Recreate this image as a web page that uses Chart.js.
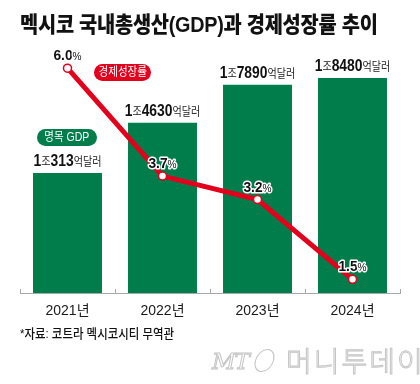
<!DOCTYPE html>
<html>
<head>
<meta charset="utf-8">
<script src="https://cdn.jsdelivr.net/npm/chart.js@4.4.0/dist/chart.umd.min.js"></script>
<style>
  html, body { margin: 0; padding: 0; background: #fff; }
  #wrap { position: relative; width: 420px; height: 384px; overflow: hidden; background: #fff;
          font-family: 'Liberation Sans', 'Noto Sans CJK KR', sans-serif; }
  #c { position: absolute; left: 0; top: 0; }
  .title { position: absolute; left: 20px; top: 6px; font-size: 22px; font-weight: 900; color: #111;
           white-space: nowrap; transform: scaleX(0.9); transform-origin: left top; letter-spacing: -0.3px; }
  .pill { position: absolute; height: 17px; line-height: 17px; border-radius: 8.5px; color: #fff;
          font-size: 12.5px; text-align: center; white-space: nowrap; }
  .pill span { display: inline-block; transform: scaleX(0.84); transform-origin: center; }
  .src { position: absolute; left: 20px; top: 323px; font-size: 13px; font-weight: 500; color: #111; white-space: nowrap;
         transform: scaleX(0.88); transform-origin: left top; }
  .wm { position: absolute; left: 212px; top: 340px; white-space: nowrap; color: transparent;
        -webkit-text-stroke: 1px #c4c4c4; }
  .wm .mt { font-family: 'DejaVu Serif', serif; font-style: italic; font-size: 23px; vertical-align: 3px; letter-spacing: -1px; }
  .wm .logo { display: inline-block; width: 17px; height: 21px; border: 1.5px solid #c4c4c4; border-radius: 50%;
              margin: 0 12px 0 6px; vertical-align: 0px; transform: skewX(-15deg); }
  .wm .mn { font-family: 'Noto Sans CJK KR', sans-serif; font-weight: 300; font-size: 28px; letter-spacing: 2px; }
</style>
</head>
<body>
<div id="wrap">
  <canvas id="c" width="420" height="384"></canvas>
  <div class="title">멕시코 국내총생산(GDP)과 경제성장률 추이</div>
  <div class="pill" style="left:94px; top:64px; width:57px; background:#e2001c;"><span>경제성장률</span></div>
  <div class="pill" style="left:37px; top:129px; width:60px; background:#007d4b;"><span>명목 GDP</span></div>
  <div class="src">*자료: 코트라 멕시코시티 무역관</div>
  <div class="wm"><span class="mt">MT</span><span class="logo"></span><span class="mn">머니투데이</span></div>
</div>
<script>
const years = ['2021년', '2022년', '2023년', '2024년'];
const gdp = [10313, 14630, 17890, 18480];       // 억달러
const growth = [6.0, 3.7, 3.2, 1.5];            // %

const GREEN = '#007d4b';
const RED = '#e2001c';
const FONT = "'Liberation Sans', 'Noto Sans CJK KR', sans-serif";
const KFONT = "'Noto Sans CJK KR', 'Liberation Sans', sans-serif";

const labelPlugin = {
  id: 'labels',
  afterDraw(chart) {
    const ctx = chart.ctx;
    // small ticks on baseline at category boundaries
    const xs = chart.scales.x;
    const n = years.length;
    const step = (xs.right - xs.left) / n;
    ctx.save();
    ctx.strokeStyle = '#a8a8a8';
    ctx.lineWidth = 1;
    for (let i = 0; i <= n; i++) {
      const x = Math.round(xs.left + i * step) + 0.5;
      ctx.beginPath();
      ctx.moveTo(x, xs.top);
      ctx.lineTo(x, xs.top - 4);
      ctx.stroke();
    }
    ctx.restore();

    // bar value labels
    const barMeta = chart.getDatasetMeta(1);
    barMeta.data.forEach((el, i) => {
      const v = gdp[i];
      const segs = [
        [String(Math.floor(v / 10000)), 'bold 16.5px ' + FONT, '#111'],
        ['조', '12px ' + KFONT, '#222'],
        [String(v % 10000), 'bold 16.5px ' + FONT, '#111'],
        ['억달러', '12px ' + KFONT, '#222']
      ];
      ctx.save();
      let total = 0;
      segs.forEach(s => { ctx.font = s[1]; s.push(ctx.measureText(s[0]).width); total += s[3]; });
      ctx.translate(el.x, el.y - 7);
      ctx.scale(0.84, 1);
      let x = -total / 2;
      ctx.textBaseline = 'alphabetic';
      ctx.textAlign = 'left';
      segs.forEach(s => { ctx.font = s[1]; ctx.fillStyle = s[2]; ctx.fillText(s[0], x, 0); x += s[3]; });
      ctx.restore();
    });

    // growth labels
    const lineMeta = chart.getDatasetMeta(0);
    lineMeta.data.forEach((el, i) => {
      const segs = [
        [growth[i].toFixed(1), 'bold 15px ' + FONT],
        ['%', '11px ' + FONT]
      ];
      ctx.save();
      let total = 0;
      segs.forEach(s => { ctx.font = s[1]; s.push(ctx.measureText(s[0]).width); total += s[2]; });
      ctx.translate(el.x, el.y - 8);
      ctx.scale(0.92, 1);
      let x = -total / 2;
      ctx.textBaseline = 'alphabetic';
      ctx.lineJoin = 'round';
      segs.forEach(s => {
        ctx.font = s[1];
        ctx.strokeStyle = '#fff';
        ctx.lineWidth = 3;
        ctx.strokeText(s[0], x, 0);
        ctx.fillStyle = '#111';
        ctx.fillText(s[0], x, 0);
        x += s[2];
      });
      ctx.restore();
    });
  }
};

new Chart(document.getElementById('c'), {
  data: {
    labels: years,
    datasets: [
      {
        type: 'line',
        label: '경제성장률',
        data: growth,
        yAxisID: 'y2',
        borderColor: RED,
        borderWidth: 5,
        pointRadius: 4,
        pointBorderWidth: 1.5,
        pointBackgroundColor: '#fff',
        pointBorderColor: RED,
        tension: 0,
        order: 0
      },
      {
        type: 'bar',
        label: '명목 GDP',
        data: gdp,
        yAxisID: 'y',
        backgroundColor: GREEN,
        borderWidth: 0,
        categoryPercentage: 1,
        barPercentage: 0.726,
        order: 1
      }
    ]
  },
  options: {
    responsive: false,
    devicePixelRatio: 1,
    animation: false,
    layout: { padding: { top: 40, left: 20, right: 20, bottom: 0 } },
    plugins: { legend: { display: false }, title: { display: false }, tooltip: { enabled: false } },
    scales: {
      x: {
        offset: true,
        grid: { display: true, drawOnChartArea: false, drawTicks: false, color: 'rgba(0,0,0,0)' },
        border: { display: true, color: '#a8a8a8', width: 1 },
        ticks: { color: '#1a1a1a', font: { size: 14, family: FONT }, padding: 10 },
        afterFit(scale) { scale.height = 91; }
      },
      y: { display: false, min: 0, max: 21745 },
      y2: { display: false, min: 1.209, max: 6.601 }
    }
  },
  plugins: [labelPlugin]
});
</script>
</body>
</html>
